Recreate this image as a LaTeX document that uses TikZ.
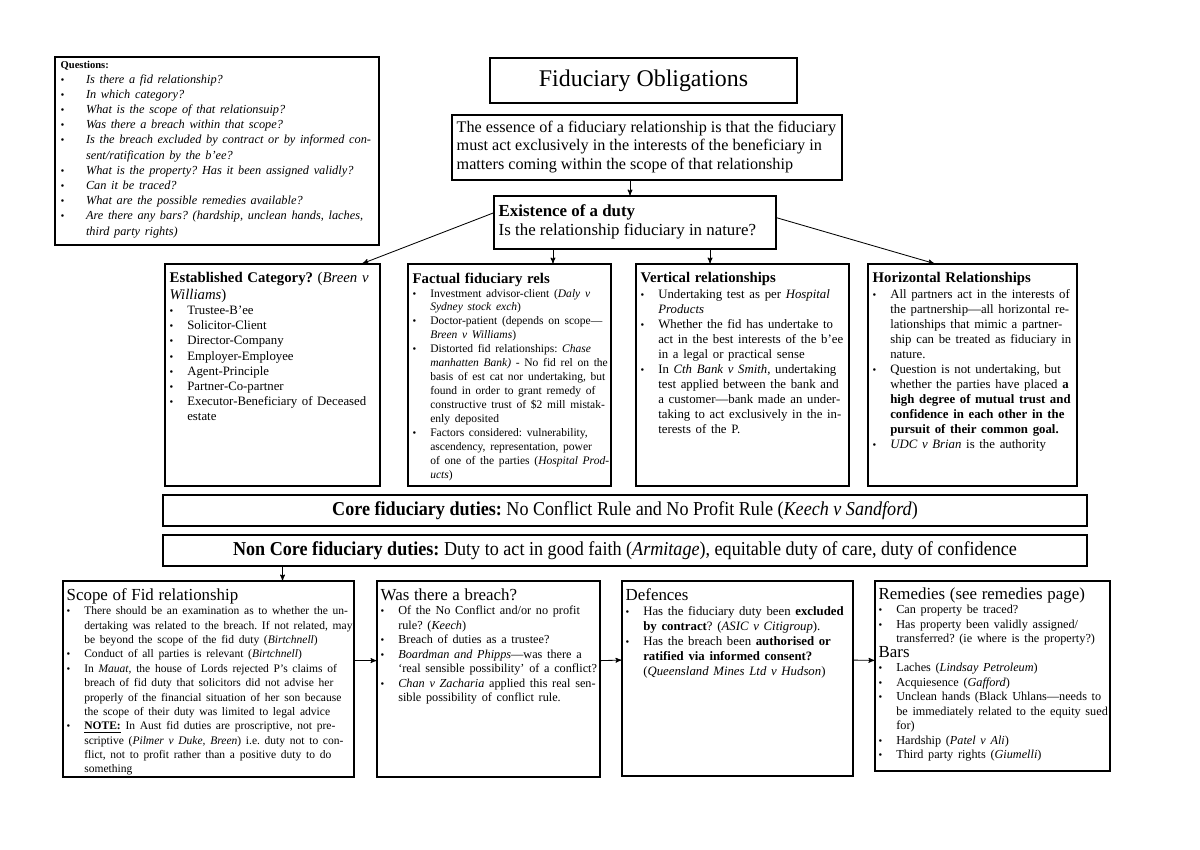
\documentclass[tikz,border=0pt]{standalone}
\usepackage{fontspec}
\setmainfont{Liberation Serif}
\newfontfamily\narrowfont[FakeStretch=0.92]{Liberation Serif}
\usepackage{enumitem}
\usetikzlibrary{shapes,arrows,positioning,calc,fit}
\setlist[itemize]{nosep, leftmargin=12.5pt, labelwidth=8pt, labelsep=4.5pt, align=left, before=\raggedright, label={\fontsize{7.5}{7.5}\selectfont\textbullet}}
\frenchspacing
\tikzstyle{block} = [rectangle, draw, line width=0.8pt, inner sep=0pt]
\tikzstyle{txt} = [anchor=north west, inner sep=0pt, align=left]
\tikzstyle{line} = [draw, line width=0.6pt, ->]
\newcommand{\bodyA}{\fontsize{9.1}{10.7}\selectfont}
\newcommand{\bodyB}{\fontsize{8.7}{10.3}\selectfont}
\newcommand{\headA}{\fontsize{10.5}{12}\selectfont\bfseries}
\newcommand{\headB}{\fontsize{12}{13.5}\selectfont}
\newcommand{\nl}{\newline}

\begin{document}
\begin{tikzpicture}[x=0.025cm, y=-0.025cm, >=stealth']
    \useasboundingbox (0,0) rectangle (1200,849);

    % boxes
    \node[block, fit={(55,57) (379,245)}] (quest) {};
    \node[block, fit={(490,58) (797,103)}] (title) {};
    \node[block, fit={(452,115) (842,180)}] (ess) {};
    \node[block, fit={(494,196) (776,249)}] (exist) {};
    \node[block, fit={(165,264) (380,486)}] (est) {};
    \node[block, fit={(408,264) (611,486)}] (fact) {};
    \node[block, fit={(636,264) (849,486)}] (vert) {};
    \node[block, fit={(868,264) (1077,486)}] (horiz) {};
    \node[block, fit={(163,495) (1087,526)}] (core) {};
    \node[block, fit={(163,535) (1087,566)}] (noncore) {};
    \node[block, fit={(63,581) (354,777)}] (scope) {};
    \node[block, fit={(377,581) (600,777)}] (breach) {};
    \node[block, fit={(622,581) (853,776)}] (def) {};
    \node[block, fit={(875,581) (1110,771)}] (rem) {};

    % texts
    \node[txt, text width=8.2cm] at ([shift={(6,4)}]quest.north west) {\raggedright
        {\fontsize{7.5}{10}\selectfont\bfseries Questions:}\par
        \fontsize{8.75}{10.8}\selectfont\itshape
        \begin{itemize}[leftmargin=18pt, labelwidth=10pt, labelsep=8pt]
            \item Is there a fid relationship?
            \item In which category?
            \item What is the scope of that relationsuip?
            \item Was there a breach within that scope?
            \item Is the breach excluded by contract or by informed con-\nl sent/ratification by the b’ee?
            \item What is the property? Has it been assigned validly?
            \item Can it be traced?
            \item What are the possible remedies available?
            \item Are there any bars? (hardship, unclean hands, laches,\nl third party rights)
        \end{itemize}};
    \node[font=\fontsize{17}{20}\selectfont] at (title.center) {Fiduciary Obligations};
    \node[txt, font=\fontsize{11.5}{13.2}\selectfont] at ([shift={(5,6)}]ess.north west)
        {The essence of a fiduciary relationship is that the fiduciary\\
         must act exclusively in the interests of the beneficiary in\\
         matters coming within the scope of that relationship};
    \node[txt, font=\fontsize{12}{13.5}\selectfont] at ([shift={(5,9)}]exist.north west)
        {\textbf{Existence of a duty}\\ Is the relationship fiduciary in nature?};

    \node[txt, text width=5.5cm] at ([shift={(5,9)}]est.north west) {\raggedright
        {\headA Established Category? \mdseries(\textit{Breen v}\nl \textit{Williams})}\par
        \bodyA
        \begin{itemize}
            \item Trustee-B’ee
            \item Solicitor-Client
            \item Director-Company
            \item Employer-Employee
            \item Agent-Principle
            \item Partner-Co-partner
            \item Executor-Beneficiary of Deceased\nl estate
        \end{itemize}};
    \node[txt, text width=5.2cm] at ([shift={(5,9)}]fact.north west) {\raggedright
        {\headA Factual fiduciary rels}\par
        \fontsize{8.2}{9.9}\selectfont
        \begin{itemize}
            \item Investment advisor-client (\textit{Daly v}\nl \textit{Sydney stock exch})
            \item Doctor-patient (depends on scope—\nl \textit{Breen v Williams})
            \item Distorted fid relationships: \textit{Chase}\nl \textit{manhatten Bank)} - No fid rel on the\nl basis of est cat nor undertaking, but\nl found in order to grant remedy of\nl constructive trust of \$2 mill mistak-\nl enly deposited
            \item Factors considered: vulnerability,\nl ascendency, representation, power\nl of one of the parties (\textit{Hospital Prod-}\nl \textit{ucts})
        \end{itemize}};
    \node[txt, text width=5.5cm] at ([shift={(5,9)}]vert.north west) {\raggedright
        {\headA Vertical relationships}\par
        \bodyA
        \begin{itemize}
            \item Undertaking test as per \textit{Hospital}\nl \textit{Products}
            \item Whether the fid has undertake to\nl act in the best interests of the b’ee\nl in a legal or practical sense
            \item In \textit{Cth Bank v Smith}, undertaking\nl test applied between the bank and\nl a customer—bank made an under-\nl taking to act exclusively in the in-\nl terests of the P.
        \end{itemize}};
    \node[txt, text width=5.4cm] at ([shift={(5,9)}]horiz.north west) {\raggedright
        {\headA Horizontal Relationships}\par
        \bodyA
        \begin{itemize}
            \item All partners act in the interests of\nl the partnership—all horizontal re-\nl lationships that mimic a partner-\nl ship can be treated as fiduciary in\nl nature.
            \item Question is not undertaking, but\nl whether the parties have placed \textbf{a}\nl \textbf{high degree of mutual trust and}\nl \textbf{confidence in each other in the}\nl \textbf{pursuit of their common goal.}
            \item \textit{UDC v Brian} is the authority
        \end{itemize}};

    \node[font=\narrowfont\fontsize{14}{16}\selectfont] at (core.center)
        {\textbf{Core fiduciary duties:} No Conflict Rule and No Profit Rule (\textit{Keech v Sandford})};
    \node[font=\narrowfont\fontsize{14}{16}\selectfont] at (noncore.center)
        {\textbf{Non Core fiduciary duties:} Duty to act in good faith (\textit{Armitage}), equitable duty of care, duty of confidence};

    \node[txt, text width=7.6cm] at ([shift={(4,8)}]scope.north west) {\raggedright
        {\headB Scope of Fid relationship}\par
        \fontsize{8.2}{10.2}\selectfont
        \begin{itemize}
            \item There should be an examination as to whether the un-\nl dertaking was related to the breach. If not related, may\nl be beyond the scope of the fid duty (\textit{Birtchnell})
            \item Conduct of all parties is relevant (\textit{Birtchnell})
            \item In \textit{Mauat,} the house of Lords rejected P’s claims of\nl breach of fid duty that solicitors did not advise her\nl properly of the financial situation of her son because\nl the scope of their duty was limited to legal advice
            \item \textbf{\underline{NOTE:}} In Aust fid duties are proscriptive, not pre-\nl scriptive (\textit{Pilmer v Duke, Breen}) i.e. duty not to con-\nl flict, not to profit rather than a positive duty to do\nl something
        \end{itemize}};
    \node[txt, text width=5.8cm] at ([shift={(4,8)}]breach.north west) {\raggedright
        {\headB Was there a breach?}\par
        \bodyB
        \begin{itemize}
            \item Of the No Conflict and/or no profit\nl rule? (\textit{Keech})
            \item Breach of duties as a trustee?
            \item \textit{Boardman and Phipps}—was there a\nl `real sensible possibility' of a conflict?
            \item \textit{Chan v Zacharia} applied this real sen-\nl sible possibility of conflict rule.
        \end{itemize}};
    \node[txt, text width=6.0cm] at ([shift={(4,8)}]def.north west) {\raggedright
        {\headB Defences}\par
        \fontsize{9.1}{10.7}\selectfont
        \begin{itemize}
            \item Has the fiduciary duty been \textbf{excluded}\nl \textbf{by contract}? (\textit{ASIC v Citigroup}).
            \item Has the breach been \textbf{authorised or}\nl \textbf{ratified via informed consent?}\nl (\textit{Queensland Mines Ltd v Hudson})
        \end{itemize}};
    \node[txt, text width=6.1cm] at ([shift={(4,7)}]rem.north west) {\raggedright
        {\headB Remedies (see remedies page)}\par
        \bodyB
        \begin{itemize}
            \item Can property be traced?
            \item Has property been validly assigned/\nl transferred? (ie where is the property?)
        \end{itemize}
        {\headB Bars}\par
        \begin{itemize}
            \item Laches (\textit{Lindsay Petroleum})
            \item Acquiesence (\textit{Gafford})
            \item Unclean hands (Black Uhlans—needs to\nl be immediately related to the equity sued\nl for)
            \item Hardship (\textit{Patel v Ali})
            \item Third party rights (\textit{Giumelli})
        \end{itemize}};

    % arrows
    \path ([xshift=-0.125cm]exist.north) coordinate (ea);
    \draw[line] (ea |- ess.south) -- (ea);
    \draw[line] ([yshift=0.24cm]exist.west) -- ([xshift=-0.45cm]est.north east);
    \draw[line] ([yshift=0.12cm]exist.east) -- ([xshift=-0.96cm]horiz.north);
    \path ([xshift=-2.05cm]exist.south) coordinate (fa);
    \path ([xshift=1.875cm]exist.south) coordinate (va);
    \draw[line] (fa) -- (fa |- fact.north);
    \draw[line] (va) -- (va |- vert.north);
    \path ([xshift=1.85cm]scope.north) coordinate (sa);
    \draw[line] (sa |- noncore.south) -- (sa);
    \draw[line] ([yshift=0.46cm]scope.east) -- ([yshift=0.46cm]breach.west);
    \draw[line] ([yshift=0.46cm]breach.east) -- ([yshift=0.46cm]def.west);
    \draw[line] ([yshift=0.46cm]def.east) -- ([yshift=0.39cm]rem.west);
\end{tikzpicture}
\end{document}
